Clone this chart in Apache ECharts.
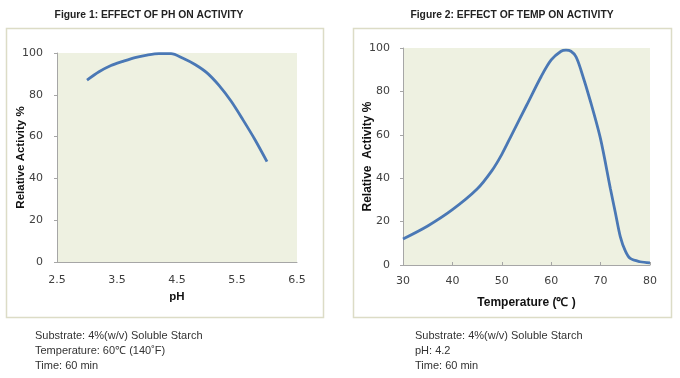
<!DOCTYPE html>
<html>
<head>
<meta charset="utf-8">
<script src="https://cdn.jsdelivr.net/npm/echarts@6/dist/echarts.min.js"></script>
<style>
html,body{margin:0;padding:0;background:#fff;}
#chart{width:680px;height:378px;}
</style>
</head>
<body>
<div id="chart"></div>
<script>
// Figure 1: effect of pH
var phValues = [3.0, 3.2, 3.4, 3.6, 3.8, 4.0, 4.2, 4.4, 4.6, 4.8, 5.0, 5.2, 5.4, 5.6, 5.8, 6.0];
var phActivity = [87, 91, 94, 96, 97.8, 99, 99.7, 99.7, 97.5, 94.5, 90.5, 84.5, 77, 68, 58.5, 48];
var phTicks = [2.5, 3.5, 4.5, 5.5, 6.5];

// Figure 2: effect of temperature
var tempValues = [30, 35, 40, 45, 48, 50, 52, 55, 58, 60, 62, 63, 64, 65, 66, 68, 70, 72, 73, 74, 75, 76, 78, 80];
var tempActivity = [12, 18, 25.5, 35, 43.5, 51, 60, 73.5, 87, 94.5, 98.5, 99, 98.5, 96, 90, 75, 58, 35, 24, 13, 6.5, 3, 1.5, 1];

var activityTicks = [0, 20, 40, 60, 80, 100];

var titles = ['Figure 1: EFFECT OF PH ON ACTIVITY', 'Figure 2: EFFECT OF TEMP ON ACTIVITY'];
var notesLeft = ['Substrate: 4%(w/v) Soluble Starch', 'Temperature: 60\u2103 (140\u02daF)', 'Time: 60 min'];
var notesRight = ['Substrate: 4%(w/v) Soluble Starch', 'pH: 4.2', 'Time: 60 min'];

function pairs(xs, ys) { return xs.map(function (x, i) { return [x, ys[i]]; }); }

var chart = echarts.init(document.getElementById('chart'), null, {renderer: 'canvas'});
var lineColor = '#4a78b5';
var axisLineStyle = {color: '#a6a6a6', width: 1};
var labelStyle = {color: '#404040', fontFamily: 'DejaVu Sans', fontSize: 11};
var nameStyle = {color: '#111', fontFamily: 'Liberation Sans', fontWeight: 'bold', fontSize: 11.5};
var plotBg = '#eef1e1';

function noteText(lines, x) {
  return lines.map(function (t, i) {
    return {type: 'text', left: x, top: 330 + i * 15,
      style: {text: t, fill: '#333', font: '11px "Liberation Sans"'}};
  });
}

var option = {
  backgroundColor: '#fff',
  animation: false,
  title: [
    {text: titles[0], left: 144, top: 5, textAlign: 'center',
     textStyle: {fontFamily: 'Liberation Sans', fontWeight: 'bold', fontSize: 10.3, color: '#222'}},
    {text: titles[1], left: 507, top: 5, textAlign: 'center',
     textStyle: {fontFamily: 'Liberation Sans', fontWeight: 'bold', fontSize: 10.3, color: '#222'}}
  ],
  graphic: [
    {type: 'rect', shape: {x: 6.5, y: 28.5, width: 317, height: 289},
     style: {fill: 'none', stroke: '#dcdcc6', lineWidth: 1.5}},
    {type: 'rect', shape: {x: 353.5, y: 28.5, width: 318, height: 289},
     style: {fill: 'none', stroke: '#dcdcc6', lineWidth: 1.5}}
  ].concat(noteText(notesLeft, 35)).concat(noteText(notesRight, 415)),
  grid: [
    {left: 57, top: 53, width: 240, height: 209, show: true, backgroundColor: plotBg, borderWidth: 0},
    {left: 403, top: 48, width: 247, height: 217, show: true, backgroundColor: plotBg, borderWidth: 0}
  ],
  xAxis: [
    {type: 'value', gridIndex: 0, min: phTicks[0], max: phTicks[phTicks.length - 1], interval: 0.5,
     name: 'pH', nameLocation: 'middle', nameGap: 29, nameMoveOverlap: false, nameTextStyle: nameStyle,
     axisLine: {show: true, lineStyle: axisLineStyle},
     axisTick: {show: false},
     splitLine: {show: false},
     axisLabel: Object.assign({margin: 13, formatter: function (v) {
       return phTicks.indexOf(Math.round(v * 10) / 10) >= 0 ? v.toFixed(1) : '';
     }}, labelStyle)},
    {type: 'value', gridIndex: 1, min: 30, max: 80, interval: 10,
     name: 'Temperature (\u2103 )', nameLocation: 'middle', nameGap: 32, nameMoveOverlap: false,
     nameTextStyle: Object.assign({}, nameStyle, {fontSize: 12}),
     axisLine: {show: true, lineStyle: axisLineStyle},
     axisTick: {show: true, inside: true, length: 3, lineStyle: axisLineStyle},
     splitLine: {show: false},
     axisLabel: Object.assign({margin: 11}, labelStyle)}
  ],
  yAxis: [
    {type: 'value', gridIndex: 0, min: 0, max: 100, interval: 20,
     name: 'Relative Activity %', nameLocation: 'middle', nameGap: 30, nameMoveOverlap: false, nameTextStyle: nameStyle,
     axisLine: {show: true, lineStyle: axisLineStyle},
     axisTick: {show: true, length: 3, lineStyle: axisLineStyle},
     splitLine: {show: false},
     axisLabel: Object.assign({margin: 14}, labelStyle)},
    {type: 'value', gridIndex: 1, min: 0, max: 100, interval: 20,
     name: 'Relative  Activity %', nameLocation: 'middle', nameGap: 29, nameMoveOverlap: false,
     nameTextStyle: Object.assign({}, nameStyle, {fontSize: 12}),
     axisLine: {show: true, lineStyle: axisLineStyle},
     axisTick: {show: true, length: 3, lineStyle: axisLineStyle},
     splitLine: {show: false},
     axisLabel: Object.assign({margin: 13}, labelStyle)}
  ],
  series: [
    {type: 'line', xAxisIndex: 0, yAxisIndex: 0, data: pairs(phValues, phActivity),
     smooth: 0.3, showSymbol: false, lineStyle: {color: lineColor, width: 2.8}},
    {type: 'line', xAxisIndex: 1, yAxisIndex: 1, data: pairs(tempValues, tempActivity),
     smooth: 0.3, showSymbol: false, lineStyle: {color: lineColor, width: 2.8}}
  ]
};
chart.setOption(option);
</script>
</body>
</html>
